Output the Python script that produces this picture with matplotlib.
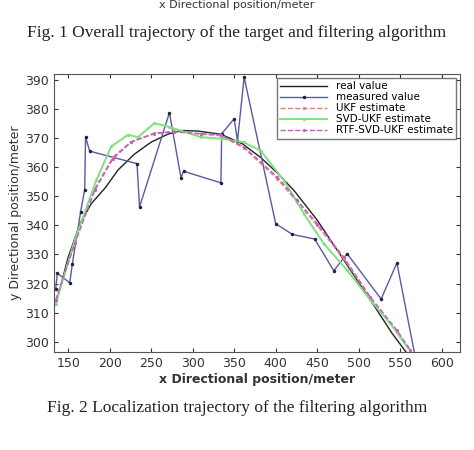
import matplotlib
matplotlib.use("Agg")
import matplotlib.pyplot as plt

real_x = [135, 150, 165, 178, 195, 210, 230, 250, 270, 286, 306, 334, 360, 382, 402, 422, 450, 482, 514, 540, 558, 566]
real_y = [312.6, 329, 341, 347.5, 353, 359, 364.5, 368.6, 371.3, 372.6, 372.4, 371.3, 368, 363.3, 358, 352, 341.8, 328.1, 314.4, 303, 296.1, 292]

meas_x = [135, 137, 152, 155, 165, 170, 171, 176, 233, 236, 272, 286, 289, 334, 335, 350, 354, 362, 400, 420, 447, 470, 486, 527, 546, 570]
meas_y = [318, 323.5, 320.3, 326.6, 344.6, 352.3, 370.3, 365.5, 361.2, 346.3, 378.7, 356.3, 358.6, 354.6, 371.5, 376.6, 369, 390.9, 340.6, 336.9, 335.3, 324.4, 330.3, 314.7, 327.1, 292]

ukf_x = [135, 158, 182, 204, 226, 254, 278, 310, 334, 362, 402, 426, 450, 482, 514, 546, 562]
ukf_y = [314.3, 333.8, 352.5, 363.5, 368.8, 371.7, 372.3, 371.3, 370.8, 366.5, 356.0, 348.0, 340.0, 328.5, 315.0, 303.5, 296.8]

svd_x = [135, 158, 184, 202, 222, 234, 254, 272, 310, 334, 362, 382, 410, 434, 458, 486, 514, 538, 558]
svd_y = [313, 334.9, 355.5, 367.1, 371.1, 370.3, 375.1, 373.8, 370.3, 369.8, 368.5, 365.6, 355.4, 344.0, 333.7, 324.6, 314.4, 306.3, 298.4]

rtf_x = [135, 158, 182, 204, 226, 254, 278, 310, 334, 362, 402, 426, 450, 482, 514, 546, 562]
rtf_y = [314.3, 333.8, 352.0, 362.9, 368.6, 371.5, 372.1, 371.5, 371.1, 366.9, 356.6, 348.6, 340.6, 329.1, 315.4, 304.0, 297.2]

xticks = [150, 200, 250, 300, 350, 400, 450, 500, 550, 600]
yticks = [300, 310, 320, 330, 340, 350, 360, 370, 380, 390]

fig = plt.figure(figsize=(4.74, 4.5), dpi=100)
ax = fig.add_axes([54/474, 1 - 352/450, 406/474, 278/450])

ax.plot(real_x, real_y, color="#222222", lw=1.0, label="real value")
ax.plot(meas_x, meas_y, color="#5a5aa0", lw=1.0, marker=".", ms=3, mfc="#222244", mec="#222244", label="measured value")
ax.plot(ukf_x, ukf_y, color="#e08080", lw=1.0, ls="--", marker=".", ms=2.5, label="UKF estimate")
ax.plot(svd_x, svd_y, color="#80e080", lw=1.4, marker=".", ms=2.5, label="SVD-UKF estimate")
ax.plot(rtf_x, rtf_y, color="#c060c0", lw=1.0, ls="--", marker=".", ms=2.5, label="RTF-SVD-UKF estimate")

ax.set_xlim(133, 622)
ax.set_ylim(296.5, 392)
ax.set_xticks(xticks)
ax.set_yticks(yticks)
ax.tick_params(direction="in", top=True, right=True, labelsize=9, colors="#333333", length=3)
for s in ax.spines.values():
    s.set_color("#555555")
ax.set_xlabel("x Directional position/meter", fontsize=9, color="#333333", labelpad=2, fontweight="bold")
ax.set_ylabel("y Directional position/meter", fontsize=9, color="#333333", labelpad=2)
ax.legend(loc="upper right", fontsize=7.5, frameon=True, fancybox=False, edgecolor="#555555",
          borderpad=0.3, labelspacing=0.1, handlelength=4.5, borderaxespad=0.4)

fig.text(0.5, 1 - 5/450, "x Directional position/meter", ha="center", va="center", fontsize=8, color="#333333")
fig.text(0.5, 1 - 33/450, "Fig. 1 Overall trajectory of the target and filtering algorithm",
         ha="center", va="center", fontsize=12.5, family="Liberation Serif", color="#222222")
fig.text(0.5, 1 - 408/450, "Fig. 2 Localization trajectory of the filtering algorithm",
         ha="center", va="center", fontsize=12.5, family="Liberation Serif", color="#222222")

fig.savefig("out.png", dpi=100)
